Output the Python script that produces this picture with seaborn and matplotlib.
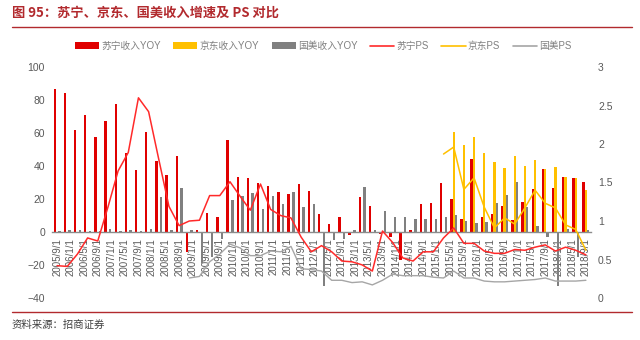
import numpy as np
import pandas as pd
import matplotlib
matplotlib.use("Agg")
import matplotlib.pyplot as plt
import seaborn as sns
from matplotlib.patches import Patch
from matplotlib.lines import Line2D
from matplotlib.ticker import FixedLocator, FixedFormatter

nan = np.nan

# ---------------- data (quarterly, starting 2005/9) ----------------
suning_yoy = [86.5, 84.4, 61.8, 70.9, 57.4, 67.5, 77.4, 47.7, 37.4, 60.4,
              43.0, 34.5, 45.9, -12.0, 1.2, 11.3, 8.9, 55.8, 33.1, 32.7,
              29.9, 27.9, 24.0, 23.2, 29.3, 24.8, 11.1, 4.6, 8.9, -2.0,
              21.0, 16.0, -1.0, -3.0, -17.0, 1.0, 16.8, 17.4, 29.9, 19.8,
              7.9, 44.0, 9.3, 10.7, 16.0, 7.3, 18.0, 26.0, 38.0, 26.5,
              33.5, 32.5, 30.5]
jd_yoy = [nan] * 39 + [60.8, 52.7, 57.8, 48.1, 42.6, 38.6, 46.0, 40.0, 43.6,
                       38.0, 39.6, 33.5, 32.5, 25.5]
gome_yoy = [0.5, 1.5, 1.5, 0.5, 0.5, 2.0, 0.5, 1.0, 0.5, 2.0,
            21.4, 1.5, 26.5, 1.5, -19.0, -15.0, -4.0, 19.4, 21.8, 23.8,
            13.7, 21.8, 17.0, 24.2, 15.0, 17.0, -33.0, -5.0, -4.0, 1.0,
            27.0, 1.5, 12.9, 9.3, 8.9, 7.7, 7.7, 7.7, 9.3, 10.1,
            6.9, 5.2, 6.0, 17.4, 22.4, 30.5, 15.0, 3.6, -3.0, -33.0,
            2.0, -15.0, 1.0]
suning_ps = [0.42, 0.41, 0.57, 0.78, 0.74, 1.18, 1.65, 1.89, 2.60, 2.42,
             1.80, 1.19, 0.94, 1.00, 1.01, 1.33, 1.33, 1.51, 1.32, 1.14,
             1.48, 1.15, 1.07, 1.04, 0.79, 0.60, 0.68, 0.60, 0.48, 0.47,
             0.43, 0.35, 0.87, 0.72, 0.52, 0.48, 0.60, 0.60, 0.78, 0.91,
             0.71, 0.71, 0.61, 0.58, 0.58, 0.63, 0.62, 0.66, 0.69, 0.61,
             0.66, 0.62, 0.56]
jd_ps = [nan] * 38 + [1.87, 1.96, 1.41, 1.56, 1.18, 0.91, 1.04, 0.96, 1.17,
                      1.40, 1.23, 1.17, 0.95, 0.89, 0.62]
gome_ps = [nan] * 13 + [0.26, 0.28, 0.47, 0.57, 0.70, 0.65, 0.55, 0.55, 0.61, 0.60,
                        0.67, 0.38, 0.37, 0.35, 0.23, 0.23, 0.20, 0.21, 0.17, 0.23,
                        0.31, 0.29, 0.29, 0.29, 0.27, 0.26, 0.35, 0.26, 0.26, 0.22,
                        0.21, 0.21, 0.22, 0.23, 0.24, 0.26, 0.22, 0.22, 0.22, 0.23]

bar_names = ["苏宁收入YOY", "京东收入YOY", "国美收入YOY"]
line_names = ["苏宁PS", "京东PS", "国美PS"]
bar_colors = ["#E00000", "#FFC000", "#808080"]
line_colors = ["#FF2A2A", "#FFC000", "#A6A6A6"]

title = "图 95：苏宁、京东、国美收入增速及 PS 对比"
source = "资料来源：招商证券"

# ---------------- positions from dates ----------------
start = pd.Timestamp("2005-09-01")
periods = pd.date_range(start, periods=len(suning_yoy), freq="3MS")
month_idx = np.array((periods.year - start.year) * 12 + (periods.month - start.month))
tick_dates = pd.date_range(start, "2018-09-01", freq="4MS")
tick_pos = np.array((tick_dates.year - start.year) * 12 + (tick_dates.month - start.month))
tick_labels = [f"{d.year}/{d.month}/{d.day}" for d in tick_dates]

n = len(suning_yoy)
bars = pd.DataFrame({
    "month": np.tile(month_idx, 3),
    "series": np.repeat(bar_names, n),
    "value": np.concatenate([suning_yoy, jd_yoy, gome_yoy]),
}).dropna()

# ---------------- plotting ----------------
sns.set_style("white")
plt.rcParams["font.family"] = ["Liberation Sans", "Noto Sans CJK SC", "DejaVu Sans"]

fig = plt.figure(figsize=(6.4, 3.4), dpi=100)
W, H = 640, 340
ax = fig.add_axes([52 / W, (H - 298) / H, (591 - 52) / W, 231 / H])

sns.barplot(data=bars, x="month", y="value", hue="series", hue_order=bar_names,
            palette=bar_colors, native_scale=True, dodge=True, width=0.7,
            errorbar=None, legend=False, saturation=1, linewidth=0, ax=ax)

ax2 = ax.twinx()
for vals, color, lw in zip([suning_ps, jd_ps, gome_ps], line_colors, [1.1, 1.1, 1.0]):
    s = pd.Series(vals, index=month_idx).dropna()
    sns.lineplot(x=s.index, y=s.values, ax=ax2, color=color, linewidth=lw)

# left axis
ax.set_ylim(-40, 100)
ax.set_yticks([-40, -20, 0, 20, 40, 60, 80, 100])
ax.set_xlabel("")
ax.set_ylabel("")
for s in ["top", "right", "left"]:
    ax.spines[s].set_visible(False)
ax.spines["bottom"].set_position(("data", 0))
ax.spines["bottom"].set_color("#8C8C8C")
ax.spines["bottom"].set_linewidth(1.0)
ax.tick_params(axis="y", length=0, labelsize=7.5, labelcolor="#595959", pad=5)

# right axis
ax2.set_ylim(0, 3)
ax2.set_yticks([0, 0.5, 1, 1.5, 2, 2.5, 3])
ax2.set_yticklabels(["0", "0.5", "1", "1.5", "2", "2.5", "3"])
ax2.tick_params(axis="y", length=0, labelsize=7.5, labelcolor="#595959", pad=5)
ax2.set_ylabel("")
for s in ax2.spines.values():
    s.set_visible(False)

# x axis (after all plotting, since axes share the x ticker)
ax.set_xlim(-1.5, 157.5)
ax.xaxis.set_major_locator(FixedLocator(tick_pos))
ax.xaxis.set_major_formatter(FixedFormatter(tick_labels))
ax.tick_params(axis="x", direction="out", length=3, width=0.8, color="#8C8C8C",
               pad=1.5, labelsize=7, labelcolor="#595959", labelrotation=90)

# legend
handles = [Patch(facecolor=c, edgecolor="none") for c in bar_colors] + \
          [Line2D([0], [0], color=c, lw=1.2) for c in line_colors]
fig.legend(handles, bar_names + line_names, loc="center",
           bbox_to_anchor=(323 / W, 1 - 46 / H), ncol=6, frameon=False,
           fontsize=7, handlelength=2.5, handleheight=0.6, columnspacing=1.3,
           handletextpad=0.2, labelcolor="#808080")

# title, rules, source
fig.text(12 / W, 1 - 13 / H, title, fontsize=9.5, fontweight="bold",
         color="#B22A2E", ha="left", va="center",
         family=["Noto Sans CJK SC", "DejaVu Sans"])
fig.add_artist(Line2D([12 / W, 632 / W], [1 - 27 / H] * 2, color="#B22A2E", lw=1.0))
fig.add_artist(Line2D([12 / W, 632 / W], [1 - 312 / H] * 2, color="#B22A2E", lw=1.0))
fig.text(12 / W, 1 - 325 / H, source, fontsize=7.5, color="#404040",
         ha="left", va="center", family=["Noto Sans CJK SC", "DejaVu Sans"])

fig.savefig("out.png", dpi=100)
